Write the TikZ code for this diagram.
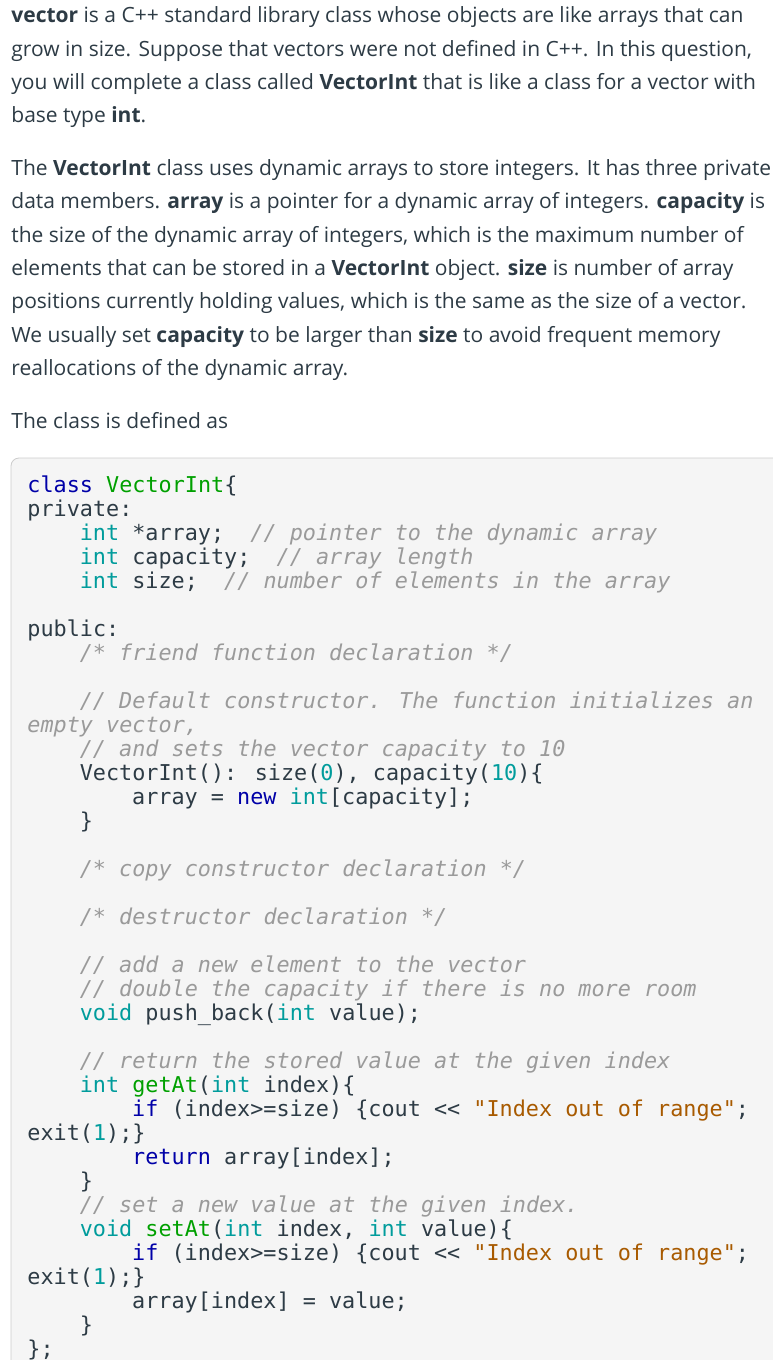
\documentclass[tikz,border=0pt]{standalone}
\usepackage{fontspec}
\setmainfont{Open Sans}
\newfontfamily\codefont{DejaVu Sans Mono}
\definecolor{txt}{HTML}{2D3B45}
\definecolor{kw}{HTML}{0000A8}
\definecolor{ty}{HTML}{009C9C}
\definecolor{gr}{HTML}{00A000}
\definecolor{st}{HTML}{A85A00}
\definecolor{cm}{HTML}{9A9A9A}
\definecolor{boxbg}{HTML}{F5F5F5}
\definecolor{boxln}{HTML}{CCCCCC}
\newcommand{\K}[1]{\textcolor{kw}{#1}}
\newcommand{\T}[1]{\textcolor{ty}{#1}}
\newcommand{\G}[1]{\textcolor{gr}{#1}}
\newcommand{\Sq}[1]{\textcolor{st}{#1}}
\newcommand{\N}[1]{\textcolor{ty}{#1}}
\newcommand{\Cm}[1]{\textcolor{cm}{\itshape #1}}
\newcounter{ln}
\newcommand{\cl}[3]{\stepcounter{ln}\node[codeline] (c\theln) at ({27+13.1*#2},{#1+8}) {#3};}
\newcommand{\pl}[2]{\stepcounter{ln}\node[proseline] (p\theln) at (11,{#1+7}) {#2};}
\begin{document}
\begin{tikzpicture}[x=0.5pt,y=-0.5pt,
  codeline/.style={anchor=base west,inner sep=0pt,font=\codefont\fontsize{10.9pt}{12pt}\selectfont,text=txt},
  proseline/.style={anchor=base west,inner sep=0pt,font=\fontsize{10.5pt}{12pt}\selectfont,text=txt}]
\useasboundingbox (0,0) rectangle (772,1360);
\fill[white] (0,0) rectangle (772,1360);
\draw[boxln,fill=boxbg,rounded corners=4pt] (11,458) rectangle (800,1400);
\pl{16}{\textbf{vector} is a C++ standard library class whose objects are like arrays that can}
\pl{49}{grow in size. Suppose that vectors were not defined in C++. In this question,}
\pl{82}{you will complete a class called \textbf{VectorInt} that is like a class for a vector with}
\pl{115}{base type \textbf{int}.}
\pl{168}{The \textbf{VectorInt} class uses dynamic arrays to store integers. It has three private}
\pl{201}{data members. \textbf{array} is a pointer for a dynamic array of integers. \textbf{capacity} is}
\pl{235}{the size of the dynamic array of integers, which is the maximum number of}
\pl{268}{elements that can be stored in a \textbf{VectorInt} object. \textbf{size} is number of array}
\pl{301}{positions currently holding values, which is the same as the size of a vector.}
\pl{335}{We usually set \textbf{capacity} to be larger than \textbf{size} to avoid frequent memory}
\pl{368}{reallocations of the dynamic array.}
\pl{421}{The class is defined as}
\cl{484}{0}{\K{class} \G{VectorInt}\{}
\cl{508}{0}{private:}
\cl{532}{4}{\T{int} *array;\ \ \Cm{// pointer to the dynamic array}}
\cl{556}{4}{\T{int} capacity;\ \ \Cm{// array length}}
\cl{580}{4}{\T{int} size;\ \ \Cm{// number of elements in the array}}
\cl{628}{0}{public:}
\cl{652}{4}{\Cm{/* friend function declaration */}}
\cl{700}{4}{\Cm{// Default constructor. The function initializes an}}
\cl{724}{0}{\Cm{empty vector,}}
\cl{748}{4}{\Cm{// and sets the vector capacity to 10}}
\cl{772}{4}{VectorInt(): size(\N{0}), capacity(\N{10})\{}
\cl{796}{8}{array = \K{new} \T{int}[capacity];}
\cl{820}{4}{\}}
\cl{868}{4}{\Cm{/* copy constructor declaration */}}
\cl{916}{4}{\Cm{/* destructor declaration */}}
\cl{964}{4}{\Cm{// add a new element to the vector}}
\cl{988}{4}{\Cm{// double the capacity if there is no more room}}
\cl{1012}{4}{\T{void} push\_back(\T{int} value);}
\cl{1060}{4}{\Cm{// return the stored value at the given index}}
\cl{1084}{4}{\T{int} \G{getAt}(\T{int} index)\{}
\cl{1108}{8}{\K{if} (index>=size) \{cout << \Sq{"Index out of range"};}
\cl{1132}{0}{exit(\N{1});\}}
\cl{1156}{8}{\K{return} array[index];}
\cl{1180}{4}{\}}
\cl{1204}{4}{\Cm{// set a new value at the given index.}}
\cl{1228}{4}{\T{void} \G{setAt}(\T{int} index, \T{int} value)\{}
\cl{1252}{8}{\K{if} (index>=size) \{cout << \Sq{"Index out of range"};}
\cl{1276}{0}{exit(\N{1});\}}
\cl{1300}{8}{array[index] = value;}
\cl{1324}{4}{\}}
\cl{1348}{0}{\};}
\end{tikzpicture}
\end{document}
